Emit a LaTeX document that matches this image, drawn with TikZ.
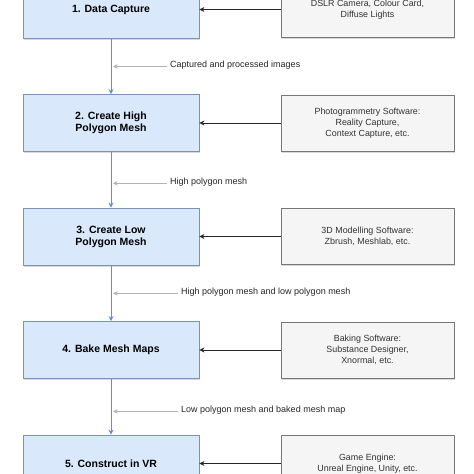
\documentclass[tikz,border=0pt]{standalone}
\usepackage{fontspec}
\setmainfont{Liberation Sans}
\usetikzlibrary{arrows.meta,shadows}
\definecolor{bfill}{HTML}{DAE8FC}
\definecolor{bdraw}{HTML}{7A93B8}
\definecolor{gfill}{HTML}{F5F5F5}
\definecolor{gdraw}{HTML}{777777}
\definecolor{gtext}{HTML}{333333}
\definecolor{flow}{HTML}{5B8FE6}
\definecolor{lgray}{HTML}{B3B3B3}
\tikzset{
  stepbox/.style={draw=bdraw, fill=bfill, line width=0.8pt, minimum width=176pt, minimum height=57pt,
    align=center, font=\fontsize{10.5}{12}\selectfont\bfseries, text=black, inner sep=0pt,
    drop shadow={shadow xshift=1.2pt, shadow yshift=-1.5pt, opacity=0.3}},
  toolbox/.style={draw=gdraw, fill=gfill, line width=0.8pt, minimum width=173pt, minimum height=56pt,
    align=center, font=\fontsize{8.9}{10.8}\selectfont, text=gtext, inner sep=0pt,
    drop shadow={shadow xshift=1.2pt, shadow yshift=-1.5pt, opacity=0.3}},
  flowlabel/.style={anchor=west, font=\fontsize{9}{11}\selectfont, text=black!85, inner sep=3pt},
  flowarrow/.style={draw=flow, line width=0.8pt, -{Stealth[length=5pt,width=5pt]}},
  toolarrow/.style={draw=black!85, line width=0.8pt, -{Stealth[length=5pt,width=5pt]}},
  notearrow/.style={draw=lgray, line width=0.8pt, -{Stealth[length=4.5pt,width=4.5pt]}}
}
\begin{document}
\begin{tikzpicture}[x=1pt,y=-1pt]
\useasboundingbox (0,0) rectangle (474,474);
\clip (0,0) rectangle (474,474);
\fill[white] (0,0) rectangle (474,474);

\node[stepbox] (s1) at (111,9.5) {1. Data Capture};
\node[stepbox] (s2) at (111,123) {2. Create High\\Polygon Mesh};
\node[stepbox] (s3) at (111,236.5) {3. Create Low\\Polygon Mesh};
\node[stepbox] (s4) at (111,350) {4. Bake Mesh Maps};
\node[stepbox] (s5) at (111,463.5) {5. Construct in VR};

\node[toolbox] (t1) at (367.5,9.5) {DSLR Camera, Colour Card,\\Diffuse Lights};
\node[toolbox] (t2) at (367.5,123) {Photogrammetry Software:\\Reality Capture,\\Context Capture, etc.};
\node[toolbox] (t3) at (367.5,236.5) {3D Modelling Software:\\Zbrush, Meshlab, etc.};
\node[toolbox] (t4) at (367.5,350) {Baking Software:\\Substance Designer,\\Xnormal, etc.};
\node[toolbox] (t5) at (367.5,463.5) {Game Engine:\\Unreal Engine, Unity, etc.};

\foreach \i in {1,...,5} {\draw[toolarrow] (t\i.west) -- (s\i.east);}
\draw[flowarrow] (s1.south) -- (s2.north);
\draw[flowarrow] (s2.south) -- (s3.north);
\draw[flowarrow] (s3.south) -- (s4.north);
\draw[flowarrow] (s4.south) -- (s5.north);

\node[flowlabel] (l1) at (167,65.5) {Captured and processed images};
\node[flowlabel] (l2) at (167,182.5) {High polygon mesh};
\node[flowlabel] (l3) at (178,292.5) {High polygon mesh and low polygon mesh};
\node[flowlabel] (l4) at (178,410.5) {Low polygon mesh and baked mesh map};
\coordinate (e1) at (113,66.5);
\coordinate (e2) at (113,183.3);
\coordinate (e3) at (113,293.3);
\coordinate (e4) at (113,411.3);
\foreach \i in {1,...,4} {\draw[notearrow] (l\i.west |- e\i) -- (e\i);}
\end{tikzpicture}
\end{document}
